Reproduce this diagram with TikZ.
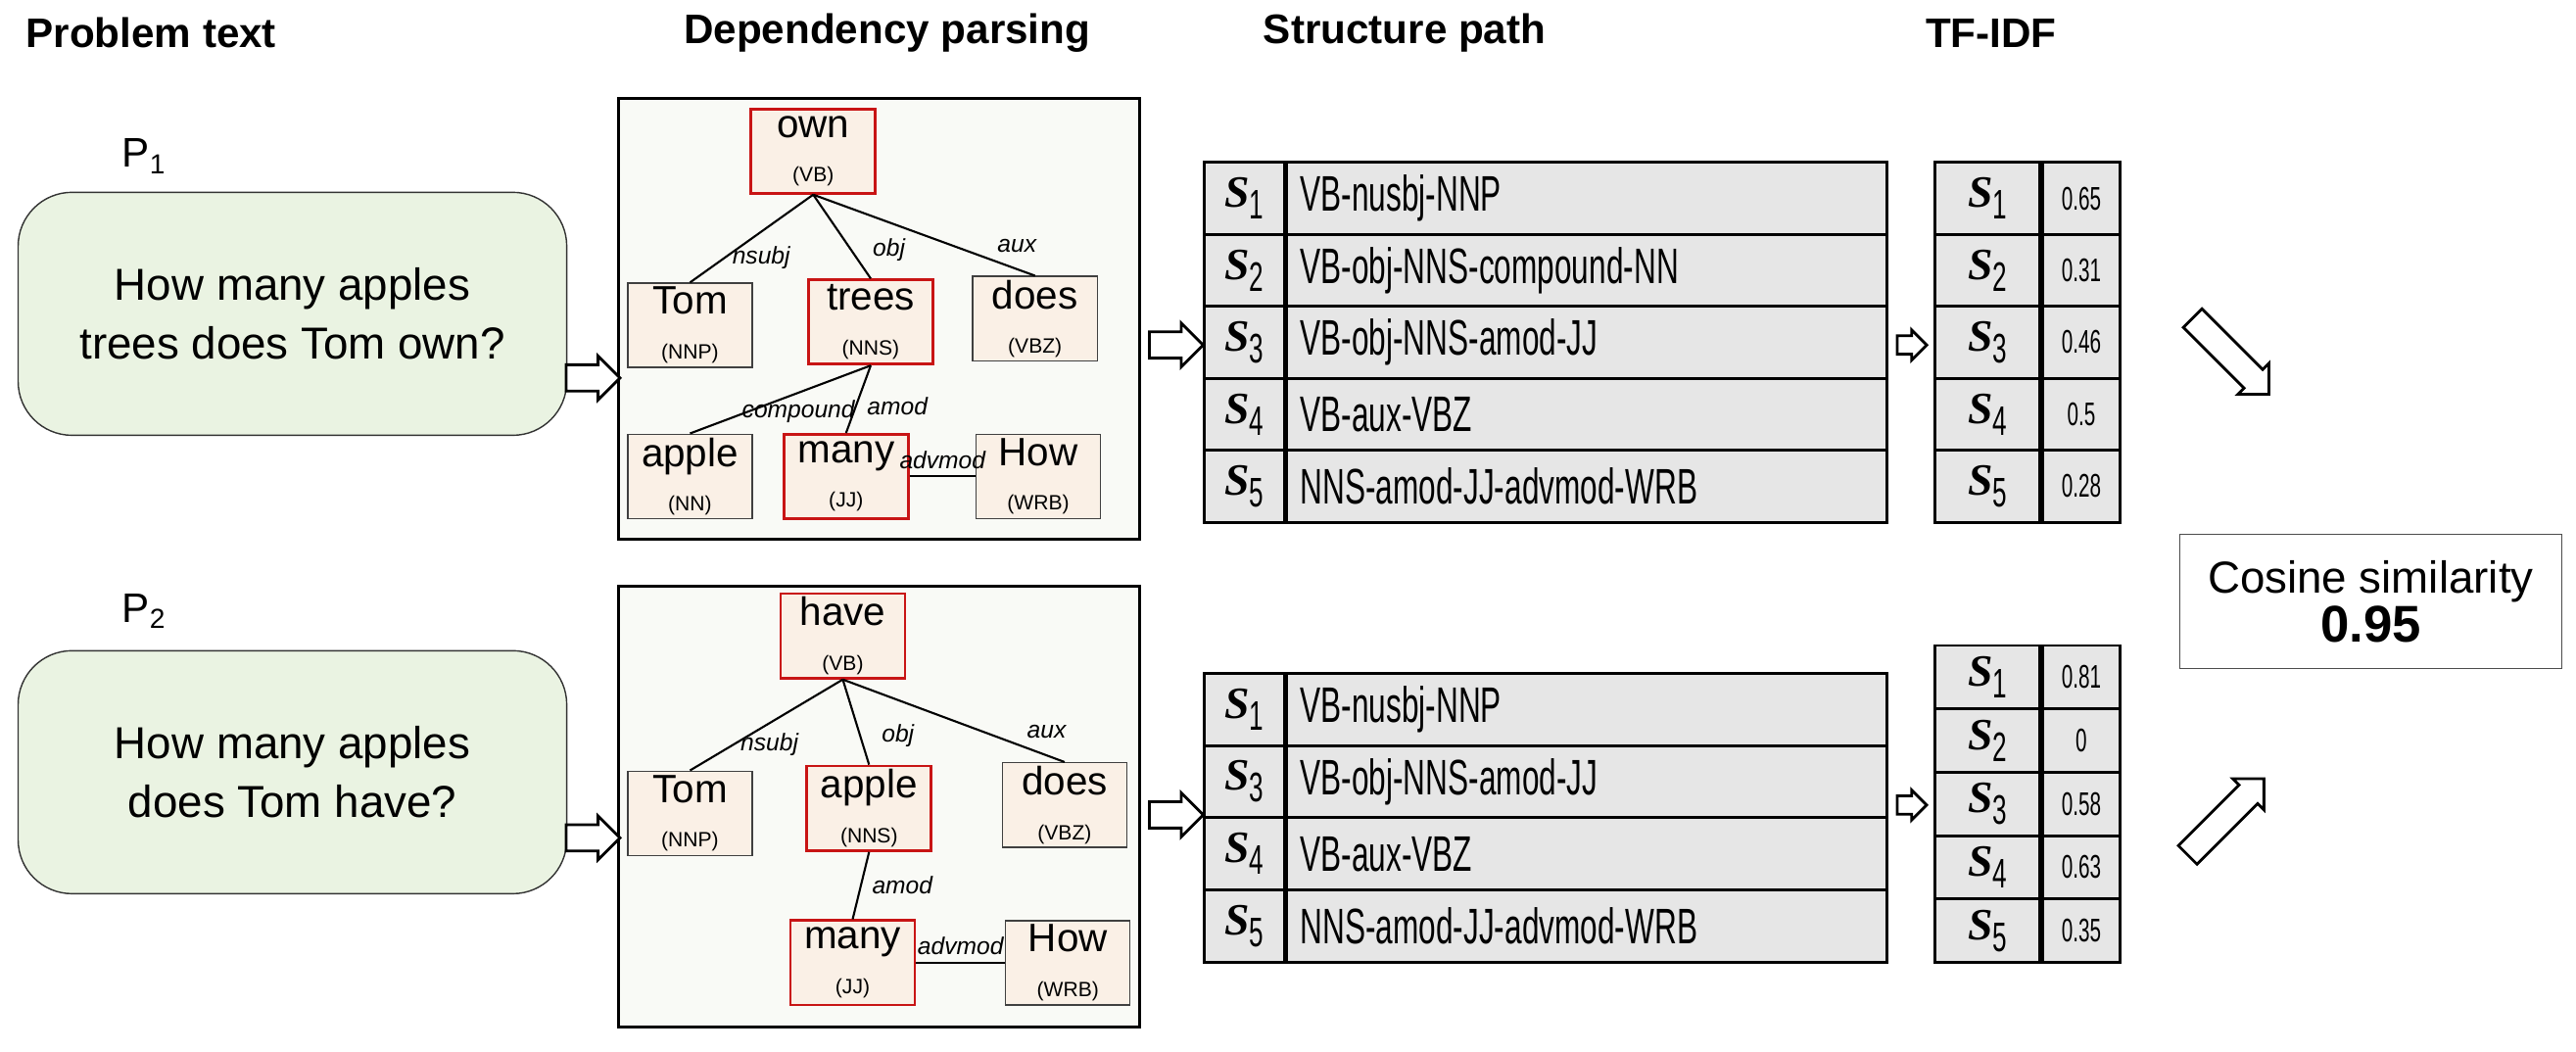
\documentclass[tikz,border=0pt]{standalone}
\usepackage{fontspec}
\setmainfont{Liberation Sans}
\newfontfamily\narrowfont[FakeStretch=0.62]{Liberation Sans}
\newfontfamily\serifbold{Liberation Serif}
\usetikzlibrary{positioning,shapes.arrows}
\definecolor{boxgreen}{RGB}{234,243,226}
\definecolor{depfill}{RGB}{249,250,246}
\definecolor{wordfill}{RGB}{250,240,230}
\definecolor{wordred}{RGB}{200,20,20}
\definecolor{cellgray}{RGB}{230,230,230}
\newcommand{\Slab}[1]{{\serifbold\bfseries\itshape S}\raisebox{-0.5ex}{\narrowfont\fontsize{12}{12}\selectfont #1}}
\newcommand{\wordtag}[2]{{\fontsize{11.5}{13}\selectfont #1}\\[1pt]{\fontsize{6}{7}\selectfont (#2)}}
\tikzstyle{heading}=[font=\bfseries\fontsize{12}{14}\selectfont]
\tikzstyle{problem}=[draw=black!80,fill=boxgreen,rounded corners=0.55cm,minimum width=5.6cm,minimum height=2.48cm,align=center,font=\fontsize{13}{17}\selectfont]
\tikzstyle{depbox}=[draw=black,thick,fill=depfill,minimum width=5.32cm,minimum height=4.5cm]
\tikzstyle{word}=[draw=black!75,fill=wordfill,align=center,minimum width=1.27cm,minimum height=0.86cm,inner sep=1pt]
\tikzstyle{head word}=[word,draw=wordred,thick]
\tikzstyle{rel}=[font=\itshape\fontsize{7}{8}\selectfont,inner sep=1pt]
\tikzstyle{cellS}=[draw=black,thick,fill=cellgray,minimum width=0.82cm,inner sep=0pt,anchor=north west,font=\fontsize{13}{14}\selectfont]
\tikzstyle{cellT}=[draw=black,thick,fill=cellgray,minimum width=6.12cm,inner sep=0pt,anchor=north west,text width=5.85cm,font=\narrowfont\fontsize{14.5}{16}\selectfont]
\tikzstyle{cellV}=[draw=black,thick,fill=cellgray,minimum width=0.79cm,inner sep=0pt,anchor=north west,align=center,font=\narrowfont\fontsize{9.5}{10}\selectfont]
\tikzstyle{hollow}=[single arrow,draw=black,thick,fill=white,minimum height=0.55cm,inner xsep=0pt,inner ysep=0.12cm,single arrow head extend=0.09cm]
\tikzstyle{link}=[black,semithick]

\begin{document}
\begin{tikzpicture}[x=0.01677cm,y=-0.01677cm]
\useasboundingbox (0,0) rectangle (1568,640);

	% Headings
	\node[heading] (h-text) at (92,20) {Problem text};
	\node[heading] (h-dep) at (540,20) {Dependency parsing};
	\node[heading] (h-path) at (855,20) {Structure path};
	\node[heading] (h-tfidf) at (1212,20) {TF-IDF};

	% Problems
	\node[font=\fontsize{12}{14}\selectfont] (p1) at (88,95) {P\textsubscript{1}};
	\node[font=\fontsize{12}{14}\selectfont] (p2) at (88,372) {P\textsubscript{2}};
	\node[problem] (q1) at (178,191) {How many apples\\trees does Tom own?};
	\node[problem] (q2) at (178,470) {How many apples\\does Tom have?};

	% Dependency trees
	\node[depbox] (d1) at (535,194) {};
	\node[depbox] (d2) at (535,491) {};

	\node[head word] (own) at (495,92) {\wordtag{own}{VB}};
	\node[word] (tom1) at (420,198) {\wordtag{Tom}{NNP}};
	\node[head word] (trees) at (530,196) {\wordtag{trees}{NNS}};
	\node[word] (does1) at (630,194) {\wordtag{does}{VBZ}};
	\node[word] (apple1) at (420,290) {\wordtag{apple}{NN}};
	\node[head word] (many1) at (515,290) {\wordtag{many}{JJ}};
	\node[word] (how1) at (632,290) {\wordtag{How}{WRB}};

	\draw[link] (own.south) -- node[rel,pos=0.72,right=1pt] {nsubj} (tom1.north);
	\draw[link] (own.south) -- node[rel,pos=0.66,right=5pt] {obj} (trees.north);
	\draw[link] (own.south) -- node[rel,pos=0.8,above right=1pt] {aux} (does1.north);
	\draw[link] (trees.south) -- node[rel,pos=0.4,below=1pt] {compound} (apple1.north);
	\draw[link] (trees.south) -- node[rel,pos=0.6,right=2pt] {amod} (many1.north);
	\draw[link] (many1.east) -- node[rel,above=1pt] {advmod} (how1.west);

	\node[head word] (have) at (513,387) {\wordtag{have}{VB}};
	\node[word] (tom2) at (420,495) {\wordtag{Tom}{NNP}};
	\node[head word] (apple2) at (529,492) {\wordtag{apple}{NNS}};
	\node[word] (does2) at (648,490) {\wordtag{does}{VBZ}};
	\node[head word] (many2) at (519,586) {\wordtag{many}{JJ}};
	\node[word] (how2) at (650,586) {\wordtag{How}{WRB}};

	\draw[link] (have.south) -- node[rel,pos=0.72,right=1pt] {nsubj} (tom2.north);
	\draw[link] (have.south) -- node[rel,pos=0.66,right=5pt] {obj} (apple2.north);
	\draw[link] (have.south) -- node[rel,pos=0.8,above right=1pt] {aux} (does2.north);
	\draw[link] (apple2.south) -- node[rel,pos=0.5,right=2pt] {amod} (many2.north);
	\draw[link] (many2.east) -- node[rel,above=1pt] {advmod} (how2.west);

	% Structure paths
	\foreach \s/\t [count=\i] in {1/VB-nusbj-NNP, 2/VB-obj-NNS-compound-NN, 3/VB-obj-NNS-amod-JJ, 4/VB-aux-VBZ, 5/NNS-amod-JJ-advmod-WRB}
	{
		\node[cellS,minimum height=0.735cm] (sa-\i) at (732,{98+43.8*(\i-1)}) {\Slab{\s}};
		\node[cellT,minimum height=0.735cm] (ta-\i) at (sa-\i.north east) {\t};
	}
	\foreach \s/\t [count=\i] in {1/VB-nusbj-NNP, 3/VB-obj-NNS-amod-JJ, 4/VB-aux-VBZ, 5/NNS-amod-JJ-advmod-WRB}
	{
		\node[cellS,minimum height=0.735cm] (sb-\i) at (732,{409+44*(\i-1)}) {\Slab{\s}};
		\node[cellT,minimum height=0.735cm] (tb-\i) at (sb-\i.north east) {\t};
	}

	% TF-IDF
	\foreach \v [count=\i] in {0.65,0.31,0.46,0.5,0.28}
	{
		\node[cellS,minimum width=1.07cm,minimum height=0.735cm] (fa-\i) at (1177,{98+43.8*(\i-1)}) {\Slab{\i}};
		\node[cellV,minimum height=0.735cm] (va-\i) at (fa-\i.north east) {\v};
	}
	\foreach \v [count=\i] in {0.81,0,0.58,0.63,0.35}
	{
		\node[cellS,minimum width=1.07cm,minimum height=0.647cm] (fb-\i) at (1177,{392+38.6*(\i-1)}) {\Slab{\i}};
		\node[cellV,minimum height=0.647cm] (vb-\i) at (fb-\i.north east) {\v};
	}

	% Cosine similarity
	\node[draw=black!70,minimum width=3.9cm,minimum height=1.37cm,align=center] (cos) at (1443,366)
		{{\fontsize{13}{15}\selectfont Cosine similarity}\\{\bfseries\fontsize{15}{17}\selectfont 0.95}};

	% Hollow arrows
	\node[hollow] (a-q1) at (357,230) {};
	\node[hollow] (a-q2) at (357,510) {};
	\node[hollow] (a-d1) at (712,210) {};
	\node[hollow] (a-d2) at (712,496) {};
	\node[hollow,minimum height=0.3cm,inner ysep=0.08cm,single arrow head extend=0.06cm] (a-s1) at (1161,210) {};
	\node[hollow,minimum height=0.3cm,inner ysep=0.08cm,single arrow head extend=0.06cm] (a-s2) at (1161,490) {};
	\node[hollow,minimum height=1.1cm,rotate=-45] (a-f1) at (1355,214) {};
	\node[hollow,minimum height=1.1cm,rotate=45] (a-f2) at (1352,500) {};
\end{tikzpicture}
\end{document}
